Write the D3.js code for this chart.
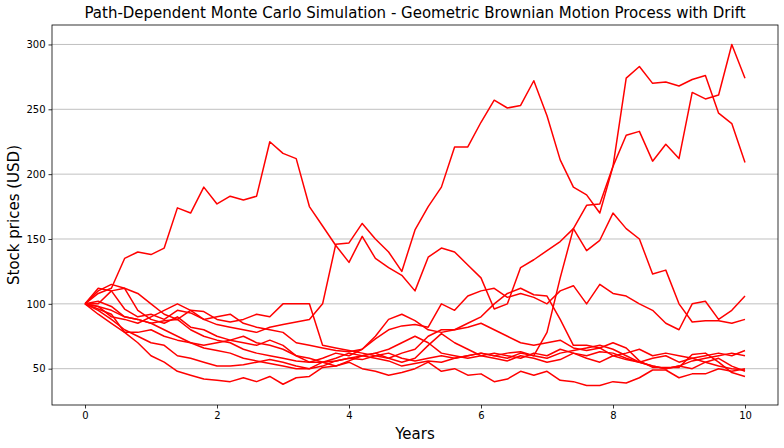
<html>
<head>
<script src="https://d3js.org/d3.v7.min.js"></script>
<style>
  body { margin: 0; background: #fff; }
  text { font-family: "DejaVu Sans", sans-serif; }
</style>
</head>
<body>
<div id="chart"></div>
<script>
// time grid and paths (0.2 year steps)
var years = d3.range(51).map(function(i) { return i * 0.2; });
var pathA = [100,108,112,135,140,138,143,174,170,190,177,183,180,183,225,216,212,175,160,145,132,152,135,128,122,110,136,143,140,130,120,96,100,128,134,141,148,158,141,149,170,158,150,123,126,100,86,87,87,85,88];
var pathB = [100,112,110,96,90,92,88,95,93,88,84,82,80,78,82,84,86,88,100,146,147,162,150,140,125,157,175,190,221,221,240,257,251,253,272,245,211,190,184,170,206,274,283,270,271,268,273,276,247,239,209];
var pathC = [100,95,88,80,75,70,68,60,58,55,52,52,53,55,57,55,52,50,52,56,58,57,60,62,58,56,58,60,58,60,62,60,62,63,60,78,120,158,176,177,206,230,233,210,223,212,263,258,261,300,274];
var pathD = [100,92,85,78,70,60,55,48,45,42,41,40,43,40,44,38,43,44,51,52,55,50,48,45,47,50,55,48,50,45,46,40,42,48,45,48,41,40,37,37,40,39,43,49,49,43,46,46,50,48,50];
var pathE = [100,110,115,112,108,100,92,88,95,94,88,86,88,92,90,100,100,100,68,66,64,62,60,58,62,65,75,80,80,85,90,100,108,112,107,106,88,68,68,66,70,66,56,51,51,51,61,62,55,47,44];
var pathF = [100,98,90,88,85,90,95,100,95,88,90,92,85,82,80,78,70,68,66,64,63,65,73,80,83,84,82,100,95,106,110,112,105,108,105,100,110,114,100,115,108,106,100,95,85,80,100,102,88,95,106];
var pathG = [100,96,92,78,78,80,75,72,70,68,70,72,75,70,68,65,60,58,55,56,58,60,62,65,70,75,70,62,60,58,60,62,60,58,62,60,65,62,60,63,62,58,55,58,60,55,58,60,62,60,64];
var pathH = [100,102,98,90,88,85,87,88,80,75,72,70,65,62,60,58,56,55,55,52,56,60,62,58,55,58,68,77,70,65,60,58,56,60,58,55,57,62,58,55,60,62,65,60,62,60,58,55,52,50,49];
var pathI = [100,100,110,112,95,88,85,90,82,80,75,72,70,68,72,68,60,55,58,62,60,65,75,88,92,87,80,78,80,82,85,80,75,70,68,70,72,66,64,66,60,57,55,52,50,52,56,58,60,62,60];
var pathJ = [100,98,95,90,88,85,80,75,70,66,64,62,58,56,54,52,50,50,55,58,62,60,58,56,52,54,56,55,58,60,62,60,58,62,60,58,62,64,66,68,65,60,55,52,50,52,50,55,58,52,48];
var paths = [pathA, pathB, pathC, pathD, pathE, pathF, pathG, pathH, pathI, pathJ];
var xTicks = [0, 2, 4, 6, 8, 10];
var yTicks = [50, 100, 150, 200, 250, 300];

var margin = {top: 25, right: 6, bottom: 43, left: 52},
    width = 784 - margin.left - margin.right,
    height = 448 - margin.top - margin.bottom;

var svg = d3.select("#chart").append("svg")
    .attr("width", 784).attr("height", 448)
  .append("g")
    .attr("transform", "translate(" + margin.left + "," + margin.top + ")");

var x = d3.scaleLinear().domain([-0.5, 10.5]).range([0, width]);
var y = d3.scaleLinear().domain([22, 315]).range([height, 0]);

// horizontal grid
svg.selectAll(".grid").data(yTicks).enter().append("line")
    .attr("x1", 0).attr("x2", width)
    .attr("y1", function(d) { return y(d); }).attr("y2", function(d) { return y(d); })
    .attr("stroke", "#b0b0b0").attr("stroke-width", 0.8);

var line = d3.line()
    .x(function(d, i) { return x(years[i]); })
    .y(function(d) { return y(d); });

svg.selectAll(".path").data(paths).enter().append("path")
    .attr("d", line)
    .attr("fill", "none").attr("stroke", "red").attr("stroke-width", 1.5)
    .attr("stroke-linejoin", "round");

var xAxis = svg.append("g").attr("transform", "translate(0," + height + ")")
    .call(d3.axisBottom(x).tickValues(xTicks).tickFormat(d3.format("d")).tickSizeOuter(0).tickSize(3.5));
var yAxis = svg.append("g")
    .call(d3.axisLeft(y).tickValues(yTicks).tickSizeOuter(0).tickSize(3.5));
[xAxis, yAxis].forEach(function(a) {
  a.select(".domain").remove();
  a.selectAll("text").attr("font-size", 10).attr("fill", "#000").attr("font-family", "DejaVu Sans");
  a.selectAll("line").attr("stroke", "#000").attr("stroke-width", 0.8);
});

// frame
svg.append("rect").attr("width", width).attr("height", height)
    .attr("fill", "none").attr("stroke", "#000").attr("stroke-width", 0.8);

svg.append("text").attr("x", width / 2).attr("y", -7).attr("text-anchor", "middle")
    .attr("font-size", 15).text("Path-Dependent Monte Carlo Simulation - Geometric Brownian Motion Process with Drift");
svg.append("text").attr("x", width / 2).attr("y", height + 34).attr("text-anchor", "middle")
    .attr("font-size", 15).text("Years");
svg.append("text").attr("transform", "rotate(-90)")
    .attr("x", -height / 2).attr("y", -33).attr("text-anchor", "middle")
    .attr("font-size", 15).text("Stock prices (USD)");
</script>
</body>
</html>
